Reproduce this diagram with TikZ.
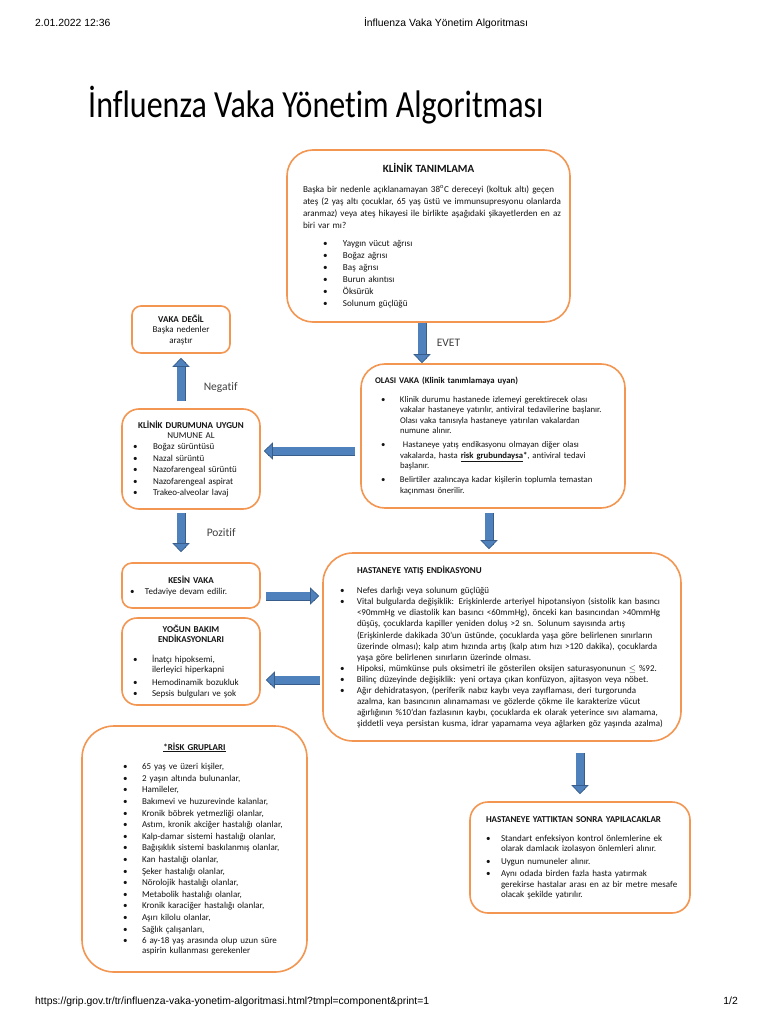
\documentclass[tikz,border=0pt]{standalone}
\usepackage{fontspec}
\usepackage{graphicx}
\setmainfont{Carlito}[Ligatures=CommonOff]
\newfontfamily\headfont{Liberation Sans}
\usetikzlibrary{arrows.meta,positioning}
\definecolor{boxorange}{RGB}{242,150,82}
\definecolor{arrowblue}{RGB}{79,129,189}
\definecolor{arrowdark}{RGB}{56,93,138}
\definecolor{txtgray}{RGB}{20,20,20}
\newcommand{\bulletline}[3]{\mbox{\hspace*{#1}\makebox[#2][l]{\textbullet}#3}}
\newcommand{\contline}[2]{\mbox{\hspace*{#1}#2}}
\tikzset{
  box/.style={draw=boxorange, line width=1.6pt, fill=white, text=txtgray,
    align=left, inner ysep=0pt},
  blockarrow/.style={draw=arrowblue, line width=7.5pt,
    -{Triangle[width=17pt,length=9pt,color=arrowdark,fill=arrowblue,line width=0.7pt]},
    preaction={draw=arrowdark, line width=9pt, -, shorten >=4pt}},
  lbl/.style={font=\fontsize{11.5}{13}\selectfont, text=black!75, inner sep=0pt},
  headtxt/.style={font=\headfont\fontsize{10.4}{12}\selectfont, inner sep=0pt},
}
\begin{document}
\begin{tikzpicture}[x=1pt,y=-1pt]
\fill[white] (0,0) rectangle (768,1024);
\useasboundingbox (0,0) rectangle (768,1024);
% page header and footer
\node[headtxt, anchor=base west] (date) at (35,27) {2.01.2022 12:36};
\node[headtxt, anchor=base] (head) at (446,27) {İnfluenza Vaka Yönetim Algoritması};
\node[headtxt, anchor=base west] (url) at (35,1004) {https://grip.gov.tr/tr/influenza-vaka-yonetim-algoritmasi.html?tmpl=component\&print=1};
\node[headtxt, anchor=base east] (page) at (738,1004) {1/2};
\node[anchor=base west, inner sep=0pt] (title) at (88,118)
  {\scalebox{1}[1.2]{\fontsize{32}{36}\selectfont İnfluenza Vaka Yönetim Algoritması}};
% boxes
\node[box, rounded corners=26pt, minimum width=283pt, minimum height=172pt,
  inner xsep=16pt, text width=251pt, font=\fontsize{9.1}{12}\selectfont] (klinik) at (428.5,236) {%
  \centerline{\fontsize{11}{12}\selectfont\bfseries KLİNİK TANIMLAMA}\vspace{8pt}
  \mbox{Başka bir nedenle açıklanamayan 38\textsuperscript{o}C dereceyi (koltuk altı) geçen}\\
  \mbox{ateş (2 yaş altı çocuklar, 65 yaş üstü ve immunsupresyonu olanlarda}\\
  \mbox{aranmaz) veya ateş hikayesi ile birlikte aşağıdaki şikayetlerden en az}\\
  \mbox{biri var mı?}\\[6pt]
  \bulletline{20pt}{20pt}{Yaygın vücut ağrısı}\\
  \bulletline{20pt}{20pt}{Boğaz ağrısı}\\
  \bulletline{20pt}{20pt}{Baş ağrısı}\\
  \bulletline{20pt}{20pt}{Burun akıntısı}\\
  \bulletline{20pt}{20pt}{Öksürük}\\
  \bulletline{20pt}{20pt}{Solunum güçlüğü}};
\node[box, rounded corners=9pt, minimum width=98pt, minimum height=47pt, inner xsep=4pt,
  text width=90pt, align=center, font=\fontsize{9}{10.5}\selectfont] (vakadegil) at (181,329.5)
  {\textbf{VAKA DEĞİL}\\Başka nedenler\\araştır};
\node[box, rounded corners=24pt, minimum width=264pt, minimum height=144pt, inner xsep=14pt,
  text width=236pt, font=\fontsize{8.7}{10.5}\selectfont] (olasi) at (493,436) {%
  \mbox{\bfseries OLASI VAKA (Klinik tanımlamaya uyan)}\\[8pt]
  \bulletline{6pt}{19pt}{Klinik durumu hastanede izlemeyi gerektirecek olası}\\
  \contline{25pt}{vakalar hastaneye yatırılır, antiviral tedavilerine başlanır.}\\
  \contline{25pt}{Olası vaka tanısıyla hastaneye yatırılan vakalardan}\\
  \contline{25pt}{numune alınır.}\\[3.5pt]
  \bulletline{6pt}{19pt}{\ Hastaneye yatış endikasyonu olmayan diğer olası}\\
  \contline{25pt}{vakalarda, hasta \underline{\textbf{risk grubundaysa}}\textbf{*}, antiviral tedavi}\\
  \contline{25pt}{başlanır.}\\[3.5pt]
  \bulletline{6pt}{19pt}{Belirtiler azalıncaya kadar kişilerin toplumla temastan}\\
  \contline{25pt}{kaçınması önerilir.}};
\node[box, rounded corners=17pt, minimum width=138pt, minimum height=100pt, inner xsep=11pt,
  text width=116pt, font=\fontsize{9}{11.4}\selectfont] (kdurum) at (191,459) {%
  \centerline{\bfseries KLİNİK DURUMUNA UYGUN}\vspace{-1.5pt}
  \centerline{NUMUNE AL}
  \bulletline{0pt}{20pt}{Boğaz sürüntüsü}\\
  \bulletline{0pt}{20pt}{Nazal sürüntü}\\
  \bulletline{0pt}{20pt}{Nazofarengeal sürüntü}\\
  \bulletline{0pt}{20pt}{Nazofarengeal aspirat}\\
  \bulletline{0pt}{20pt}{Trakeo-alveolar lavaj}};
\node[box, rounded corners=10pt, minimum width=138pt, minimum height=45pt, inner xsep=8pt,
  text width=122pt, font=\fontsize{9}{11}\selectfont] (kesin) at (191,585.5) {%
  \centerline{\bfseries KESİN VAKA}
  \bulletline{0pt}{15pt}{Tedaviye devam edilir.}};
\node[box, rounded corners=15pt, minimum width=138pt, minimum height=87pt, inner xsep=11pt,
  text width=116pt, font=\fontsize{9}{10.5}\selectfont] (yogun) at (191,661.5) {%
  \centerline{\bfseries YOĞUN BAKIM}
  \centerline{\bfseries ENDİKASYONLARI}\vspace{9pt}
  \bulletline{0pt}{19pt}{İnatçı hipoksemi,}\\
  \contline{19pt}{ilerleyici hiperkapni}\\[2.5pt]
  \bulletline{0pt}{19pt}{Hemodinamik bozukluk}\\
  \bulletline{0pt}{19pt}{Sepsis bulguları ve şok}};
\node[box, rounded corners=30pt, minimum width=358pt, minimum height=188pt, inner xsep=17pt,
  text width=324pt, font=\fontsize{9}{11.1}\selectfont] (yatis) at (502,647) {%
  \contline{17pt}{\bfseries HASTANEYE YATIŞ ENDİKASYONU}\\[9.5pt]
  \bulletline{0pt}{17pt}{Nefes darlığı veya solunum güçlüğü}\\
  \bulletline{0pt}{17pt}{Vital bulgularda değişiklik: Erişkinlerde arteriyel hipotansiyon (sistolik kan basıncı}\\
  \contline{17pt}{<90mmHg ve diastolik kan basıncı <60mmHg), önceki kan basıncından >40mmHg}\\
  \contline{17pt}{düşüş, çocuklarda kapiller yeniden doluş >2 sn. Solunum sayısında artış}\\
  \contline{17pt}{(Erişkinlerde dakikada 30’un üstünde, çocuklarda yaşa göre belirlenen sınırların}\\
  \contline{17pt}{üzerinde olması); kalp atım hızında artış (kalp atım hızı >120 dakika), çocuklarda}\\
  \contline{17pt}{yaşa göre belirlenen sınırların üzerinde olması.}\\
  \bulletline{0pt}{17pt}{Hipoksi, mümkünse puls oksimetri ile gösterilen oksijen saturasyonunun $\leq$ \%92.}\\
  \bulletline{0pt}{17pt}{Bilinç düzeyinde değişiklik: yeni ortaya çıkan konfüzyon, ajitasyon veya nöbet.}\\
  \bulletline{0pt}{17pt}{Ağır dehidratasyon, (periferik nabız kaybı veya zayıflaması, deri turgorunda}\\
  \contline{17pt}{azalma, kan basıncının alınamaması ve gözlerde çökme ile karakterize vücut}\\
  \contline{17pt}{ağırlığının \%10’dan fazlasının kaybı, çocuklarda ek olarak yeterince sıvı alamama,}\\
  \contline{17pt}{şiddetli veya persistan kusma, idrar yapamama veya ağlarken göz yaşında azalma)}};
\node[box, rounded corners=32pt, minimum width=225pt, minimum height=246pt, inner xsep=41pt,
  text width=143pt, font=\fontsize{9}{11.6}\selectfont] (risk) at (194.5,849) {%
  \centerline{\underline{\textbf{*RİSK GRUPLARI}}}\vspace{8pt}
  \bulletline{0pt}{19pt}{65 yaş ve üzeri kişiler,}\\
  \bulletline{0pt}{19pt}{2 yaşın altında bulunanlar,}\\
  \bulletline{0pt}{19pt}{Hamileler,}\\
  \bulletline{0pt}{19pt}{Bakımevi ve huzurevinde kalanlar,}\\
  \bulletline{0pt}{19pt}{Kronik böbrek yetmezliği olanlar,}\\
  \bulletline{0pt}{19pt}{Astım, kronik akciğer hastalığı olanlar,}\\
  \bulletline{0pt}{19pt}{Kalp-damar sistemi hastalığı olanlar,}\\
  \bulletline{0pt}{19pt}{Bağışıklık sistemi baskılanmış olanlar,}\\
  \bulletline{0pt}{19pt}{Kan hastalığı olanlar,}\\
  \bulletline{0pt}{19pt}{Şeker hastalığı olanlar,}\\
  \bulletline{0pt}{19pt}{Nörolojik hastalığı olanlar,}\\
  \bulletline{0pt}{19pt}{Metabolik hastalığı olanlar,}\\
  \bulletline{0pt}{19pt}{Kronik karaciğer hastalığı olanlar,}\\
  \bulletline{0pt}{19pt}{Aşırı kilolu olanlar,}\\
  \bulletline{0pt}{19pt}{Sağlık çalışanları,}\\
  \bulletline{0pt}{19pt}{6 ay-18 yaş arasında olup uzun süre}\\[-1.6pt]
  \contline{19pt}{aspirin kullanması gerekenler}};
\node[box, rounded corners=18pt, minimum width=220pt, minimum height=111pt, inner xsep=16pt,
  text width=188pt, font=\fontsize{9}{10.2}\selectfont] (yattiktan) at (580,857.5) {%
  \mbox{\bfseries HASTANEYE YATTIKTAN SONRA YAPILACAKLAR}\\[9pt]
  \bulletline{0pt}{15pt}{Standart enfeksiyon kontrol önlemlerine ek}\\
  \contline{15pt}{olarak damlacık izolasyon önlemleri alınır.}\\[2.5pt]
  \bulletline{0pt}{15pt}{Uygun numuneler alınır.}\\[2.5pt]
  \bulletline{0pt}{15pt}{Aynı odada birden fazla hasta yatırmak}\\
  \contline{15pt}{gerekirse hastalar arası en az bir metre mesafe}\\
  \contline{15pt}{olacak şekilde yatırılır.}};
% block arrows
\draw[blockarrow] ([xshift=-6.5pt]klinik.south) -- node[lbl, right=11pt] (evet) {EVET} ([xshift=-71pt]olasi.north);
\draw[blockarrow] ([xshift=-10pt,yshift=7pt]kdurum.north) -- node[lbl, pos=0.31, right=19pt] (negatif) {Negatif} ([yshift=-4pt]vakadegil.south);
\draw[blockarrow] ([xshift=-5pt,yshift=-15pt]olasi.west) -- ([xshift=3pt,yshift=8pt]kdurum.east);
\draw[blockarrow] ([xshift=-10pt,yshift=-3pt]kdurum.south) -- node[lbl, right=22pt] (pozitif) {Pozitif} ([xshift=-10pt,yshift=10pt]kesin.north);
\draw[blockarrow] ([xshift=-4pt,yshift=-4pt]olasi.south) -- ([xshift=-13pt,yshift=3pt]yatis.north);
\draw[blockarrow] ([xshift=5pt,yshift=-10.5pt]kesin.east) -- ([xshift=-3pt,yshift=51pt]yatis.west);
\draw[blockarrow] ([xshift=-2pt,yshift=-33pt]yatis.west) -- ([xshift=5pt,yshift=-18.5pt]yogun.east);
\draw[blockarrow] ([xshift=78pt,yshift=-11pt]yatis.south) -- ([yshift=7pt]yattiktan.north);
\end{tikzpicture}
\end{document}
